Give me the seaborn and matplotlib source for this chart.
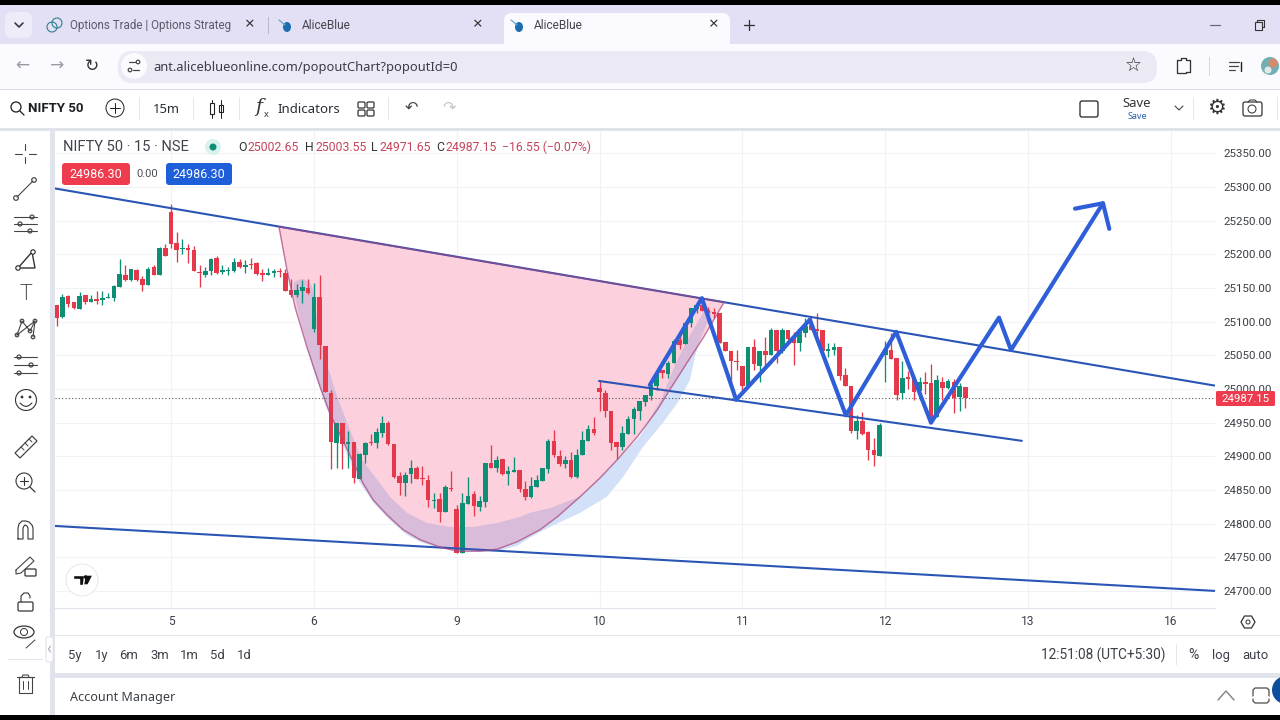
import numpy as np
import pandas as pd
import matplotlib.pyplot as plt
import seaborn as sns
from matplotlib.patches import Circle, Ellipse, FancyBboxPatch, Rectangle, Polygon

# 15m bars, 25 per session, bar 0 is the first bar of the 5th
bar_start = -20
opens = [
    25125, 25107, 25138, 25129, 25119, 25140, 25129, 25134, 25132, 25135,
    25135, 25152, 25170, 25162, 25177, 25164, 25155, 25181, 25169, 25210,
    25263, 25217, 25208, 25210, 25207, 25174, 25170, 25175, 25195, 25174,
    25176, 25175, 25188, 25182, 25186, 25187, 25172, 25170, 25172, 25175,
    25173, 25147, 25139, 25146, 25150, 25089, 25137, 25064, 24994, 24920,
    24949, 24919, 24921, 24866, 24902, 24921, 24920, 24935, 24949, 24919,
    24871, 24861, 24873, 24882, 24867, 24865, 24833, 24836, 24817, 24853,
    24821, 24756, 24829, 24844, 24825, 24832, 24890, 24883, 24896, 24873,
    24877, 24880, 24852, 24839, 24855, 24864, 24881, 24923, 24901, 24889,
    24894, 24869, 24902, 24923, 24940, 25002, 24994, 24968, 24921, 24914,
    24933, 24955, 24968, 24981, 24989, 25005, 25028, 25023, 25038, 25073,
    25067, 25098, 25119, 25125, 25118, 25115, 25113, 25070, 25056, 25042,
    25034, 25005, 25063, 25034, 25056, 25051, 25087, 25056, 25087, 25078,
    25068, 25083, 25095, 25089, 25087, 25056, 25058, 25062, 25021, 25004,
    24937, 24952, 24936, 24910, 24901, 25051, 25058, 25046, 24994, 25018,
    25016, 24997, 25010, 25009, 24959, 25010, 25001, 25010, 24988, 25003,
]
highs = [
    25125, 25141, 25140, 25130, 25144, 25140, 25140, 25145, 25146, 25143,
    25155, 25193, 25184, 25179, 25178, 25168, 25181, 25184, 25211, 25216,
    25275, 25233, 25223, 25215, 25213, 25184, 25181, 25194, 25198, 25185,
    25181, 25194, 25193, 25191, 25195, 25188, 25178, 25180, 25178, 25180,
    25178, 25163, 25156, 25162, 25163, 25158, 25170, 25064, 24999, 24949,
    24949, 24937, 24922, 24905, 24922, 24933, 24942, 24960, 24952, 24919,
    24877, 24877, 24894, 24886, 24885, 24872, 24845, 24846, 24857, 24878,
    24828, 24846, 24869, 24849, 24841, 24890, 24917, 24900, 24896, 24885,
    24899, 24880, 24863, 24870, 24872, 24882, 24925, 24939, 24910, 24901,
    24907, 24911, 24937, 24947, 24958, 25014, 24999, 24968, 24921, 24945,
    24960, 24973, 24982, 24991, 25010, 25028, 25028, 25041, 25075, 25080,
    25100, 25121, 25127, 25135, 25122, 25121, 25113, 25070, 25056, 25058,
    25034, 25063, 25074, 25056, 25078, 25090, 25087, 25090, 25087, 25085,
    25085, 25105, 25105, 25113, 25087, 25069, 25068, 25062, 25031, 25005,
    24962, 24966, 24937, 24927, 24950, 25072, 25083, 25046, 25042, 25027,
    25021, 25018, 25026, 25037, 25021, 25018, 25015, 25015, 25009, 25003,
]
lows = [
    25094, 25105, 25122, 25119, 25119, 25126, 25129, 25126, 25125, 25135,
    25131, 25152, 25161, 25161, 25161, 25146, 25154, 25169, 25169, 25197,
    25209, 25188, 25200, 25187, 25175, 25152, 25167, 25169, 25171, 25171,
    25170, 25174, 25180, 25172, 25179, 25170, 25161, 25169, 25167, 25166,
    25145, 25137, 25136, 25128, 25141, 25085, 25044, 24995, 24881, 24883,
    24881, 24882, 24860, 24866, 24890, 24917, 24913, 24928, 24917, 24868,
    24843, 24841, 24860, 24866, 24858, 24825, 24823, 24802, 24817, 24848,
    24756, 24756, 24829, 24811, 24819, 24824, 24883, 24877, 24872, 24857,
    24876, 24847, 24835, 24838, 24855, 24863, 24875, 24899, 24885, 24883,
    24868, 24868, 24902, 24923, 24932, 24967, 24958, 24910, 24896, 24910,
    24933, 24933, 24954, 24975, 24984, 24999, 25016, 25016, 25038, 25059,
    25067, 25092, 25113, 25116, 25098, 25105, 25069, 25056, 25004, 25028,
    24996, 25005, 25028, 25011, 25033, 25051, 25038, 25053, 25073, 25036,
    25056, 25077, 25087, 25075, 25056, 25047, 25051, 25014, 25004, 24935,
    24925, 24932, 24895, 24886, 24901, 25011, 25044, 24984, 24985, 25000,
    24983, 24983, 24993, 24955, 24958, 24984, 25000, 24964, 24968, 24972,
]
closes = [
    25106, 25137, 25127, 25120, 25138, 25129, 25134, 25131, 25135, 25137,
    25153, 25171, 25162, 25178, 25162, 25155, 25179, 25170, 25210, 25198,
    25216, 25207, 25210, 25206, 25175, 25172, 25175, 25193, 25172, 25177,
    25177, 25188, 25181, 25185, 25184, 25171, 25170, 25172, 25175, 25174,
    25146, 25139, 25147, 25152, 25142, 25137, 25065, 24995, 24921, 24949,
    24919, 24921, 24868, 24904, 24920, 24920, 24936, 24949, 24918, 24870,
    24861, 24872, 24882, 24867, 24866, 24835, 24835, 24817, 24854, 24851,
    24756, 24830, 24841, 24826, 24833, 24890, 24883, 24894, 24873, 24878,
    24879, 24851, 24839, 24856, 24865, 24882, 24923, 24902, 24889, 24894,
    24869, 24902, 24924, 24940, 24935, 24995, 24967, 24920, 24914, 24934,
    24955, 24970, 24982, 24991, 25006, 25023, 25024, 25038, 25072, 25066,
    25098, 25120, 25125, 25116, 25113, 25112, 25069, 25057, 25042, 25040,
    25004, 25063, 25037, 25056, 25051, 25087, 25056, 25088, 25075, 25068,
    25085, 25093, 25088, 25086, 25056, 25059, 25063, 25020, 25005, 24938,
    24952, 24933, 24909, 24902, 24946, 25059, 25045, 24991, 25016, 25015,
    24996, 25011, 25008, 24959, 25014, 25002, 25012, 24987, 25004, 24987,
]

day_ticks = [0, 25, 50, 75, 100, 125, 150, 175]
day_labels = ['5', '6', '9', '10', '11', '12', '13', '16']
price_ticks = list(range(24700, 25351, 50))
last_close = 24987.15

# drawings on the chart, x in bars and y in price
upper_x, upper_y = [-20.3, 182.7], [25298, 25005]
lower_x, lower_y = [-20.3, 182.7], [24796.5, 24700]
flag_x, flag_y = [74.9, 148.9], [25012, 24923]
path_x = [83.8, 92.9, 98.9, 111.8, 118.1, 126.9, 133.0, 144.9, 147.0, 163.1]
path_y = [25006, 25135, 24984, 25103, 24961, 25085, 24950, 25106, 25058, 25276]
head_x = [158.2, 163.1, 164.2]
head_y = [25268, 25276, 25238]
cup_x = [18.9, 20.3, 21.7, 23.8, 26.1, 27.8, 31.7, 33.6, 35.4, 37.8, 40.6, 43.6, 47.1, 50.1,
         54.1, 57.1, 60.6, 64.6, 67.6, 71.6, 75.1, 78.1, 81.6, 85.1, 87.3, 90.3, 93.2, 96.8, 18.9]
cup_y = [25241, 25177, 25122, 25062, 25003, 24964, 24895, 24860, 24835, 24813, 24791, 24776, 24765, 24759,
         24759, 24762, 24773, 24791, 24810, 24840, 24868, 24895, 24929, 24969, 24999, 25039, 25077, 25129, 25241]
band_x = [22.9, 21.5, 21.4, 22.6, 24.7, 27.0, 30.5, 32.7, 35.4, 38.3, 41.3, 44.1, 47.1, 54.1, 57.1,
          60.6, 62.8, 66.3, 71.6, 76.3, 79.1, 82.6, 86.1, 88.6, 90.8, 91.7, 92.6, 93.8, 94.7,
          93.2, 90.8, 88.2, 85.9, 82.1, 76.8, 71.6, 66.3, 62.8, 61.1, 57.1, 52.9, 48.8, 44.8,
          41.3, 38.3, 36.1, 33.4, 30.8, 29.1, 27.8, 27.0, 25.7, 24.9, 24.3, 22.9]
band_y = [25164, 25159, 25147, 25103, 25036, 24976, 24909, 24865, 24831, 24805, 24783, 24771, 24764, 24758, 24759,
          24767, 24779, 24795, 24816, 24840, 24869, 24914, 24950, 24979, 25013, 25048, 25073, 25098, 25116,
          25114, 25080, 25036, 24987, 24930, 24883, 24840, 24823, 24816, 24810, 24801, 24795, 24795, 24801,
          24816, 24840, 24865, 24895, 24950, 24988, 25024, 25043, 25095, 25147, 25159, 25164]

UI_FONT = 'Noto Sans'
CHART_FONT = 'Roboto'
GREEN, RED = '#0d8f76', '#e5384b'
LINE_BLUE, PATH_BLUE = '#2a55b5', '#2f5fd8'
INK, MUTED = '#2a2e39', '#5f6368'


def px(size):
    # font size in picture pixels
    return size * 0.72


def label(x, y, text, size, color=INK, ha='left', family=UI_FONT, **kw):
    # the fonts sit a little high when centred
    nudge = 1.6 if family == UI_FONT else 0.8
    ui.text(x, y + nudge, text, fontsize=px(size), color=color, ha=ha, va='center', family=family, **kw)


def stroke(xs, ys, color=INK, width=1.2):
    ui.plot(xs, ys, color=color, lw=width * 0.72, solid_capstyle='round', solid_joinstyle='round')


def block(x0, y0, x1, y1, color):
    ui.add_patch(Rectangle((x0, y0), x1 - x0, y1 - y0, facecolor=color, edgecolor='none'))


def pill(x0, y0, x1, y1, color, radius=3, edge='none'):
    ui.add_patch(FancyBboxPatch((x0 + radius, y0 + radius), x1 - x0 - 2 * radius, y1 - y0 - 2 * radius,
                                boxstyle=f'round,pad={radius}', facecolor=color, edgecolor=edge, lw=0.9))


def ring(x, y, r, color=INK, face='none', width=1.2):
    ui.add_patch(Circle((x, y), r, facecolor=face, edgecolor=color, lw=width * 0.72))


sns.set_style('white')
plt.rcParams['font.family'] = ['Roboto', 'DejaVu Sans']

bars = pd.DataFrame({'o': opens, 'h': highs, 'l': lows, 'c': closes})
bars['i'] = np.arange(bar_start, bar_start + len(bars))
bars['color'] = np.where(bars['c'] >= bars['o'], GREEN, RED)

fig = plt.figure(figsize=(12.8, 7.2), dpi=100, facecolor='white')
ax = fig.add_axes([55 / 1280, (720 - 608) / 720, 1160 / 1280, 477 / 720])

# band is pale blue outside the cup and mauve where the two overlap
ax.fill(band_x, band_y, facecolor='#d2e1f7', edgecolor='none', zorder=1)
cup_patch = ax.fill(cup_x, cup_y, facecolor='#fcd0dd', edgecolor='none', zorder=1.1)[0]
overlap = ax.fill(band_x, band_y, facecolor='#d8bcd9', edgecolor='none', zorder=1.2)[0]
overlap.set_clip_path(cup_patch)

ax.vlines(bars['i'], bars['l'], bars['h'], colors=bars['color'], lw=0.95, zorder=3)
ax.bar(bars['i'], (bars['c'] - bars['o']).abs().clip(lower=1.5), bottom=bars[['o', 'c']].min(axis=1),
       width=0.82, color=bars['color'], linewidth=0, zorder=3.1)

sns.lineplot(x=upper_x, y=upper_y, sort=False, estimator=None, color=LINE_BLUE, lw=1.5, ax=ax, zorder=4)
sns.lineplot(x=lower_x, y=lower_y, sort=False, estimator=None, color=LINE_BLUE, lw=1.5, ax=ax, zorder=4)
sns.lineplot(x=flag_x, y=flag_y, sort=False, estimator=None, color=LINE_BLUE, lw=1.5, ax=ax, zorder=4)
sns.lineplot(x=cup_x, y=cup_y, sort=False, estimator=None, color='#a8457f', lw=1.05, alpha=0.7, ax=ax, zorder=4.1)
sns.lineplot(x=path_x, y=path_y, sort=False, estimator=None, color=PATH_BLUE, lw=3.0, ax=ax, zorder=5)
sns.lineplot(x=head_x, y=head_y, sort=False, estimator=None, color=PATH_BLUE, lw=3.0, ax=ax, zorder=5)

ax.axhline(last_close, color='#555b66', lw=0.8, ls=(0, (1, 2)), zorder=2)

ax.set_xlim(-20.3, 182.7)
ax.set_ylim(24674.6, 25383.4)
ax.set_xticks(day_ticks, day_labels)
ax.set_yticks(price_ticks, [f'{p:.2f}' for p in price_ticks])
ax.yaxis.tick_right()
ax.tick_params(axis='y', length=0, pad=5.8, labelsize=px(11.5), labelcolor='#3b3f47')
ax.tick_params(axis='x', length=0, pad=5.2, labelsize=px(12), labelcolor='#3b3f47')
ax.grid(True, color='#f0f2f6', lw=0.8)
ax.set_axisbelow(True)
ax.set_xlabel('')
ax.set_ylabel('')
for name in ['top', 'left', 'right']:
    ax.spines[name].set_visible(False)
ax.spines['bottom'].set_color('#e0e3eb')

# browser frame and platform panels, in picture pixels
ui = fig.add_axes([0, 0, 1, 1], zorder=10)
ui.set_xlim(0, 1280)
ui.set_ylim(720, 0)
ui.axis('off')
ui.patch.set_alpha(0)

block(0, 5, 1280, 44, '#e3dff5')
block(0, 44, 1280, 90, '#fafaff')
block(0, 89, 1280, 90, '#dcdce4')
block(0, 90, 1280, 128, 'white')
block(0, 128, 1280, 131, '#e0e3eb')
block(50, 128, 55, 715, '#e0e3eb')
block(0, 131, 50, 715, 'white')
block(55, 635, 1280, 636, '#e0e3eb')
block(55, 673, 1280, 678, '#e0e3eb')
block(0, 0, 1280, 5, 'black')
block(0, 715, 1280, 720, 'black')

# tab strip
pill(504, 13, 730, 60, '#fafaff', radius=8)
block(504, 44, 730, 60, '#fafaff')
pill(5, 12, 32, 38, '#efecfa', radius=7)
stroke([15, 19, 23], [23, 27, 23], '#333', 1.6)
ring(52, 27, 5, '#2f7f8f', width=1.1)
ring(57, 23, 5, '#2f7f8f', width=1.1)
label(70, 25, 'Options Trade | Options Strateg', 11.65, '#5b5b68', family=CHART_FONT)
label(250, 24, '×', 17, '#333', ha='center')
block(268, 17, 269, 34, '#b9b6cc')
label(302, 25, 'AliceBlue', 11.9, '#45454f', family=CHART_FONT)
label(478, 24, '×', 17, '#333', ha='center')
label(534, 25, 'AliceBlue', 11.9, '#45454f', family=CHART_FONT)
label(714, 24, '×', 17, '#333', ha='center')
for fav_x in [286, 518]:
    ui.add_patch(Ellipse((fav_x + 1, 27), 8, 10, facecolor='#1b6cb0', edgecolor='none'))
    stroke([fav_x - 7, fav_x - 1], [20, 25], '#6aa7c9', 1.3)
stroke([744, 754], [25, 25], '#333', 1.3)
stroke([749, 749], [20, 30], '#333', 1.3)
stroke([1210, 1220], [25, 25], '#666', 1.2)
ui.add_patch(Rectangle((1255, 22), 7, 8, facecolor='none', edgecolor='#333', lw=0.8))
stroke([1257, 1257, 1264, 1264, 1262], [22, 19.5, 19.5, 27, 27], '#333', 1.1)

# address bar
pill(118, 51, 1157, 83, '#ebe9f3', radius=15)
ring(134, 66, 13, 'none', face='#fafaff')
stroke([129, 135], [62, 62], '#444', 1.2)
ring(138, 62, 1.8, '#444')
ring(130, 70, 1.8, '#444')
stroke([133, 139], [70, 70], '#444', 1.2)
label(22, 64.5, '←', 17, '#9a9aa5', ha='center', family='DejaVu Sans')
label(57, 64.5, '→', 17, '#9a9aa5', ha='center', family='DejaVu Sans')
label(92, 65, '↻', 17, '#333', ha='center', family='DejaVu Sans')
label(153, 66, 'ant.aliceblueonline.com/popoutChart?popoutId=0', 12.9, '#3c3c46')
label(1133, 65.5, '☆', 19, '#222', ha='center', family='DejaVu Sans')
stroke([1177, 1181, 1181, 1186, 1186, 1190, 1190, 1186, 1186, 1177, 1177],
       [60, 60, 58, 58, 60, 60, 72, 72, 73, 73, 60], '#333', 1.3)
block(1209, 57, 1210, 76, '#d8d6e2')
stroke([1229, 1239], [62, 62], '#444', 1.2)
stroke([1229, 1238], [66, 66], '#444', 1.2)
stroke([1229, 1235], [70, 70], '#444', 1.2)
stroke([1241, 1241], [62, 71], '#222', 1.4)
ui.add_patch(Circle((1270, 66), 9, facecolor='#6fb0b5', edgecolor='none'))
ui.add_patch(Circle((1273, 63), 4.5, facecolor='#d98a6a', edgecolor='none'))
ui.add_patch(Circle((1268, 70), 3.5, facecolor='#e6e6e6', edgecolor='none'))

# platform toolbar
ring(16, 107, 5, '#222', width=1.3)
stroke([20, 24], [111, 115], '#222', 1.3)
label(28, 108, 'NIFTY 50', 13.2, '#1d1f26', family=CHART_FONT, weight='bold')
ring(115, 108, 9, '#222', width=1)
stroke([110, 120], [108, 108], '#222', 1)
stroke([115, 115], [103, 113], '#222', 1)
for div_x in [139, 193, 239, 388, 1193, 1277]:
    block(div_x, 97, div_x + 1, 120, '#e6e7ec')
label(153, 108, '15m', 13, '#2a2e39')
ui.add_patch(Rectangle((210, 103), 4, 11, facecolor='none', edgecolor='#222', lw=0.8))
stroke([212, 212], [100, 103], '#222', 1)
stroke([212, 212], [114, 118], '#222', 1)
ui.add_patch(Rectangle((219, 105), 4, 7, facecolor='none', edgecolor='#222', lw=0.8))
stroke([221, 221], [100, 118], '#222', 1)
label(259, 106, 'f', 19, '#333', ha='center', family='DejaVu Serif', style='italic')
label(266, 113, 'x', 9, '#333', ha='center')
label(277, 108, 'Indicators', 13.2, '#2a2e39')
for gx, gy in [(358, 102), (367, 102), (358, 110), (367, 110)]:
    pill(gx, gy, gx + 7, gy + 6, 'white', radius=1.2, edge='#333')
label(411, 107, '↶', 16, '#444', ha='center', family='DejaVu Sans')
label(449, 107, '↷', 16, '#c4c6cc', ha='center', family='DejaVu Sans')
pill(1080, 101, 1098, 117, 'white', radius=2, edge='#222')
label(1137, 102, 'Save', 13, '#333', ha='center')
label(1137, 114.5, 'Save', 9, '#2962b0', ha='center')
stroke([1175, 1179, 1183], [106, 110, 106], '#444', 1.1)
label(1216, 107, '⚙', 21, '#333', ha='center', family='DejaVu Sans')
pill(1243, 102, 1262, 116, 'white', radius=2, edge='#333')
ring(1252, 109, 4, '#333', width=1)
stroke([1248, 1250, 1255, 1257], [102, 100, 100, 102], '#333', 1)

# chart legend
label(63, 146.5, 'NIFTY 50 · 15 · NSE', 14.6, '#3f434c', family=CHART_FONT)
ring(213, 147, 8, 'none', face='#d8f3ed')
ring(213, 147, 3.5, 'none', face='#0d8f76')
ohlc_parts = [(238, 'O', '#333'), (247, '25002.65', '#c4455b'), (305, 'H', '#333'), (315, '25003.55', '#c4455b'),
              (371, 'L', '#333'), (379, '24971.65', '#c4455b'), (436, 'C', '#333'), (445, '24987.15', '#c4455b'),
              (502, '−16.55 (−0.07%)', '#c4455b')]
for part_x, part, part_color in ohlc_parts:
    label(part_x, 147, part, 12.2, part_color, family=CHART_FONT)
pill(62, 163, 130, 185, '#ee3b4d', radius=3)
label(96, 173.5, '24986.30', 12.5, 'white', ha='center', family=CHART_FONT)
label(147, 173.5, '0.00', 11, '#4a4e58', ha='center', family=CHART_FONT)
pill(166, 163, 232, 185, '#1e5fd9', radius=3)
label(199, 173.5, '24986.30', 12.5, 'white', ha='center', family=CHART_FONT)

# last price tag
pill(1216, 391, 1275, 406, '#ee3b4d', radius=1.5)
label(1245.5, 398, f'{last_close:.2f}', 11.5, 'white', ha='center', family=CHART_FONT)

# tradingview badge
ring(82, 580, 16, '#e8e8ec', face='white', width=1)
ui.add_patch(Polygon([[73, 575], [84, 575], [84, 585], [79, 585], [79, 579], [73, 579]], facecolor='#111'))
ui.add_patch(Polygon([[85, 575], [93, 575], [88, 585], [83.5, 585]], facecolor='#111'))
ring(85.5, 577, 1.8, 'none', face='#111')

# drawing tools
stroke([25, 25], [144, 150], '#444', 1.1)
stroke([25, 25], [157, 163], '#444', 1.1)
stroke([15, 22], [153.5, 153.5], '#444', 1.1)
stroke([29, 36], [153.5, 153.5], '#444', 1.1)
stroke([17, 33], [197, 181], '#444', 1.1)
ring(16, 198, 2.3, '#444', face='white')
ring(34, 180, 2.3, '#444', face='white')
for line_y in [217, 224, 231]:
    stroke([14, 37], [line_y, line_y], '#444', 1.1)
ring(32, 217, 2, '#444', face='white')
ring(20, 224, 2, '#444', face='white')
ring(30, 231, 2, '#444', face='white')
ui.add_patch(Polygon([[18, 268], [32, 252], [35, 268]], facecolor='none', edgecolor='#333', lw=1))
ring(18, 268, 2.2, '#333', face='white')
ring(33, 252, 2.2, '#333', face='white')
label(25.5, 293.5, 'T', 21, '#444', ha='center', family='DejaVu Sans', weight='light')
stroke([17, 22, 30, 35, 17], [335, 321, 331, 321, 335], '#444', 1.1)
stroke([35, 33], [321, 337], '#444', 1.1)
for node_x, node_y in [(17, 335), (22, 321), (30, 331), (35, 321), (33, 337)]:
    ring(node_x, node_y, 1.8, '#444', face='white')
for line_y in [357, 365, 373]:
    stroke([14, 37], [line_y, line_y], '#444', 1.1)
ring(19, 357, 2, '#444', face='white')
ring(31, 365, 2, '#444', face='white')
ring(19, 373, 2, '#444', face='white')
ring(26, 400, 10.5, '#333', width=1.1)
ring(22, 397, 0.8, '#333', face='#333')
ring(30, 397, 0.8, '#333', face='#333')
stroke([20, 23, 26, 29, 32], [403, 405.5, 406.5, 405.5, 403], '#333', 1.1)
ui.add_patch(Polygon([[15, 453], [32, 436], [37, 441], [20, 458]], facecolor='none', edgecolor='#444', lw=0.9))
for tick_x, tick_y in [(21, 447), (25, 443), (29, 439)]:
    stroke([tick_x, tick_x + 3], [tick_y, tick_y + 3], '#444', 1)
ring(24, 481, 8, '#333', width=1.1)
stroke([30, 35], [487, 492], '#333', 1.2)
stroke([20, 28], [481, 481], '#333', 1.1)
stroke([24, 24], [477, 485], '#333', 1.1)
stroke([18, 18, 19, 22, 26, 29, 32, 33, 33, 28, 28, 27, 25, 24, 23, 23, 18], [539, 528, 524, 521, 521, 522, 525, 528, 539, 539, 528, 526, 525, 526, 528, 539, 539], '#333', 1.1)
stroke([16, 30, 34, 21, 16, 16], [570, 557, 561, 573, 574, 570], '#444', 1.1)
pill(25, 569, 36, 576, 'white', radius=1, edge='#333')
pill(18, 602, 33, 611, 'white', radius=1.5, edge='#333')
stroke([21, 21, 24, 28, 30, 30], [602, 596, 593, 593, 596, 598], '#333', 1.1)
ui.add_patch(Ellipse((24, 632), 20, 12, facecolor='none', edgecolor='#333', lw=0.9))
ring(24, 632, 3.5, '#333', width=1)
stroke([26, 35], [648, 640], '#444', 1)
block(8, 659, 43, 660, '#e0e3eb')
stroke([17, 34], [677, 677], '#444', 1.2)
stroke([22, 23, 28, 29], [677, 675, 675, 677], '#444', 1.1)
stroke([19, 19, 32, 32], [677, 693, 693, 677], '#444', 1.1)
stroke([23, 23], [681, 689], '#444', 1)
stroke([28, 28], [681, 689], '#444', 1)
pill(46, 637, 53, 662, 'white', radius=2, edge='#e4e6ec')
stroke([50.5, 48.5, 50.5], [646, 649, 652], '#9a9ea8', 1)

# range row, time scale gear and account bar
for range_x, range_text in zip([68, 95, 119, 150, 180, 210, 237], ['5y', '1y', '6m', '3m', '1m', '5d', '1d']):
    label(range_x, 654.5, range_text, 13, '#3b3f47', family=CHART_FONT)
label(1041, 654.5, '12:51:08 (UTC+5:30)', 13.6, '#3b3f47', family=CHART_FONT)
block(1176, 644, 1177, 665, '#e6e7ec')
label(1193, 654.5, '%', 14, '#3b3f47', ha='center', family=CHART_FONT)
label(1221, 654.5, 'log', 13, '#3b3f47', ha='center', family=CHART_FONT)
label(1255, 654.5, 'auto', 13, '#3b3f47', ha='center', family=CHART_FONT)
ui.add_patch(Polygon([[1241, 622], [1244.5, 616], [1251.5, 616], [1255, 622], [1251.5, 628], [1244.5, 628]],
                     facecolor='none', edgecolor='#333', lw=0.9))
ring(1248, 622, 2, '#333', width=1)
label(70, 695.5, 'Account Manager', 12.6, '#3b3f47')
stroke([1218, 1226, 1234], [700, 691, 700], '#888', 1.5)
stroke([1253, 1253, 1255, 1267, 1269, 1269], [696, 690, 688, 688, 690, 696], '#444', 1.2)
stroke([1253, 1253, 1255, 1267, 1269, 1269], [699, 701, 703, 703, 701, 699], '#444', 1.2)
ui.add_patch(Circle((1286, 690), 14, facecolor='#0b4f9c', edgecolor='none'))
block(1270, 715, 1280, 720, 'black')

fig.savefig('out.png', dpi=100)
